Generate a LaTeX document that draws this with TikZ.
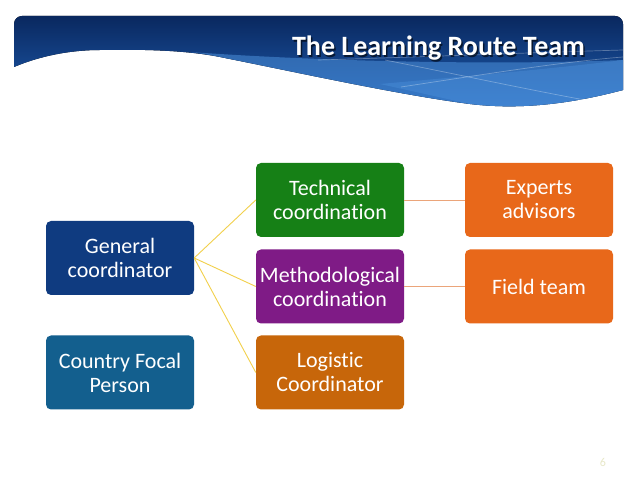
\documentclass[tikz,border=0pt]{standalone}
\usepackage{fontspec}
\setmainfont[Ligatures=NoCommon,RawFeature={-liga;-dlig}]{Carlito}
\definecolor{gencol}{RGB}{15,59,128}
\definecolor{cfpcol}{RGB}{19,95,142}
\definecolor{techcol}{RGB}{22,128,22}
\definecolor{methcol}{RGB}{127,27,134}
\definecolor{logicol}{RGB}{199,102,10}
\definecolor{orngcol}{RGB}{232,104,26}
\definecolor{ylw}{RGB}{242,208,75}
\definecolor{olin}{RGB}{235,165,122}
\definecolor{hdtop}{RGB}{10,40,95}
\definecolor{hdbot}{RGB}{30,95,180}
\definecolor{hdlight}{RGB}{80,150,225}
\definecolor{pgnum}{RGB}{232,232,200}
\tikzset{
  orgbox/.style={rounded corners=5pt, minimum width=148pt, minimum height=74pt, inner sep=2pt,
    text=white, align=center, font=\fontsize{22}{24}\selectfont},
  ylink/.style={draw=ylw, line width=0.9pt},
  olink/.style={draw=olin, line width=0.9pt},
  streak/.style={draw=white, opacity=0.3, line width=0.7pt}
}
\begin{document}
\begin{tikzpicture}[x=1pt,y=-1pt]
\useasboundingbox (0,0) rectangle (638,478);
\fill[white] (0,0) rectangle (638,478);
% header band
\fill[top color=hdtop, bottom color=hdbot]
  (14,67) [rounded corners=8pt] -- (14,16) -- (623,16) [sharp corners] -- (623,90)
  .. controls (570,104) and (520,110) .. (470,104)
  .. controls (400,95) and (300,73) .. (220,57)
  .. controls (190,51) and (150,49) .. (100,50)
  .. controls (70,50) and (40,56) .. (14,67) -- cycle;
% lighter wave
\fill[hdlight, opacity=0.5]
  (190,52) .. controls (300,60) and (480,66) .. (623,60) -- (623,90)
  .. controls (570,104) and (520,110) .. (470,104)
  .. controls (400,95) and (300,73) .. (220,57)
  .. controls (210,55) and (200,53) .. (190,52) -- cycle;
\fill[hdlight, opacity=0.35]
  (380,84) .. controls (470,76) and (560,68) .. (623,60) -- (623,90)
  .. controls (570,104) and (520,110) .. (470,104) -- cycle;
\draw[streak] (318,60) .. controls (420,57) and (520,53) .. (623,50);
\draw[streak] (385,60) .. controls (460,75) and (530,90) .. (585,100);
\draw[streak] (401,87) .. controls (480,75) and (560,62) .. (623,57);
% title
\node[anchor=east, text=black, opacity=0.6, font=\bfseries\fontsize{28}{30}\selectfont] (tshadow) at (590,50) {The Learning Route Team};
\node[anchor=east, text=white, font=\bfseries\fontsize{28}{30}\selectfont] (title) at (588.5,48.5) {The Learning Route Team};
% boxes
\node[orgbox, fill=gencol] (gen) at (120,258) {General\\coordinator};
\node[orgbox, fill=cfpcol] (cfp) at (120,372.5) {Country Focal\\Person};
\node[orgbox, fill=techcol] (tech) at (330,200) {Technical\\coordination};
\node[orgbox, fill=methcol] (meth) at (330,286.5) {Methodological\\coordination};
\node[orgbox, fill=logicol] (logi) at (330,372.5) {Logistic\\Coordinator};
\node[orgbox, fill=orngcol] (exp) at (539,200) {Experts\\advisors};
\node[orgbox, fill=orngcol] (field) at (539,286.5) {Field team};
% connectors
\draw[ylink] (gen.east) -- (tech.west);
\draw[ylink] (gen.east) -- (meth.west);
\draw[ylink] (gen.east) -- (logi.west);
\draw[olink] (tech.east) -- (exp.west);
\draw[olink] (meth.east) -- (field.west);
% page number
\node[text=pgnum, font=\fontsize{12}{14}\selectfont] (pg) at (603,462) {6};
\end{tikzpicture}
\end{document}
